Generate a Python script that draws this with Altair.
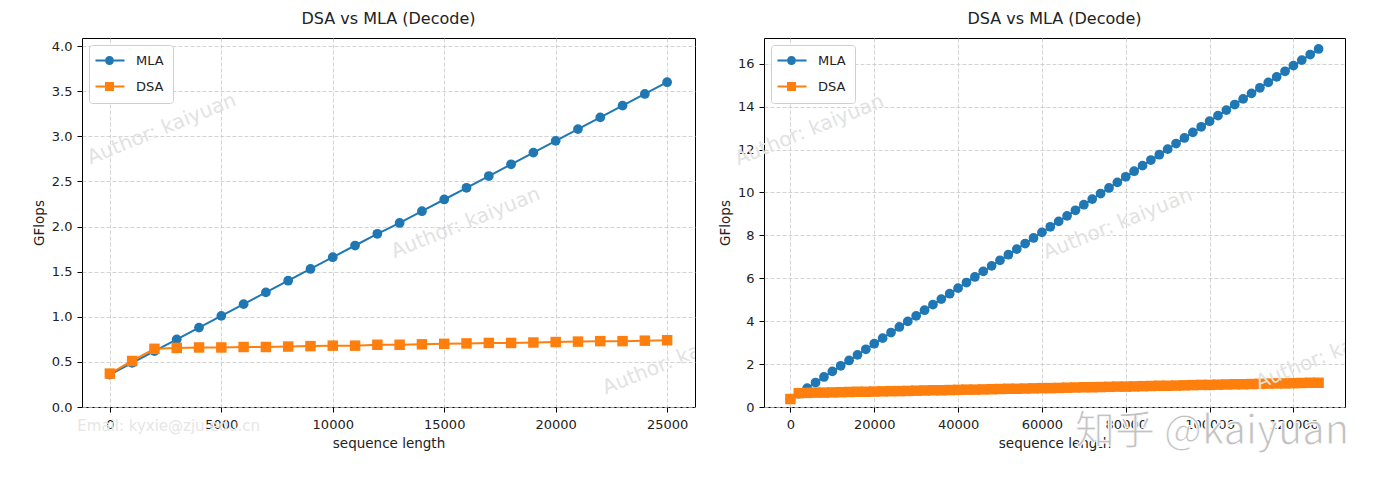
import altair as alt
import pandas as pd

# ---------------- data ----------------
series_names = ["MLA", "DSA"]
series_colors = ["#1f77b4", "#ff7f0e"]

left_seq = [0, 1000, 2000, 3000, 4000, 5000, 6000, 7000, 8000, 9000, 10000, 11000, 12000,
            13000, 14000, 15000, 16000, 17000, 18000, 19000, 20000, 21000, 22000, 23000, 24000, 25000]
left_mla = [0.36, 0.49, 0.62, 0.75, 0.88, 1.01, 1.14, 1.27, 1.40, 1.53, 1.66, 1.79, 1.92,
            2.04, 2.17, 2.30, 2.43, 2.56, 2.69, 2.82, 2.95, 3.08, 3.21, 3.34, 3.47, 3.60]
left_dsa = [0.37, 0.51, 0.645, 0.655, 0.66, 0.66, 0.665, 0.665, 0.67, 0.675, 0.68, 0.68, 0.69,
            0.69, 0.695, 0.70, 0.705, 0.71, 0.71, 0.715, 0.72, 0.725, 0.73, 0.73, 0.735, 0.74]

right_seq = [0, 2000, 4000, 6000, 8000, 10000, 12000, 14000, 16000, 18000, 20000, 22000, 24000,
             26000, 28000, 30000, 32000, 34000, 36000, 38000, 40000, 42000, 44000, 46000, 48000,
             50000, 52000, 54000, 56000, 58000, 60000, 62000, 64000, 66000, 68000, 70000, 72000,
             74000, 76000, 78000, 80000, 82000, 84000, 86000, 88000, 90000, 92000, 94000, 96000,
             98000, 100000, 102000, 104000, 106000, 108000, 110000, 112000, 114000, 116000,
             118000, 120000, 122000, 124000, 126000]
right_mla = [0.36, 0.62, 0.88, 1.14, 1.40, 1.66, 1.92, 2.17, 2.43, 2.69, 2.95, 3.21, 3.47,
             3.73, 3.99, 4.25, 4.51, 4.77, 5.03, 5.28, 5.54, 5.80, 6.06, 6.32, 6.58, 6.84,
             7.10, 7.36, 7.62, 7.88, 8.14, 8.40, 8.65, 8.91, 9.17, 9.43, 9.69, 9.95, 10.21,
             10.47, 10.73, 10.99, 11.25, 11.51, 11.76, 12.02, 12.28, 12.54, 12.80, 13.06,
             13.32, 13.58, 13.84, 14.10, 14.36, 14.62, 14.88, 15.13, 15.39, 15.65, 15.91,
             16.17, 16.43, 16.69]
right_dsa = [0.37, 0.645, 0.66, 0.67, 0.67, 0.68, 0.69, 0.70, 0.71, 0.71, 0.72, 0.73, 0.74,
             0.74, 0.75, 0.76, 0.77, 0.78, 0.78, 0.79, 0.80, 0.81, 0.81, 0.82, 0.83, 0.84,
             0.85, 0.85, 0.86, 0.87, 0.88, 0.88, 0.89, 0.90, 0.91, 0.92, 0.92, 0.93, 0.94,
             0.95, 0.95, 0.96, 0.97, 0.98, 0.99, 0.99, 1.00, 1.01, 1.02, 1.03, 1.03, 1.04,
             1.05, 1.06, 1.06, 1.07, 1.08, 1.09, 1.10, 1.10, 1.11, 1.12, 1.13, 1.13]

left_xticks = [0, 5000, 10000, 15000, 20000, 25000]
left_yticks = [0.0, 0.5, 1.0, 1.5, 2.0, 2.5, 3.0, 3.5, 4.0]
right_xticks = [0, 20000, 40000, 60000, 80000, 100000, 120000]
right_yticks = [0, 2, 4, 6, 8, 10, 12, 14, 16]

title_text = "DSA vs MLA (Decode)"
x_title = "sequence length"
y_title = "GFlops"

# watermark texts (placed in data coordinates of each panel)
wm_text = "Author:  kaiyuan"
left_wm_seq, left_wm_val = [2325, 15966], [3.08, 2.04]
left_wm_clip_seq, left_wm_clip_val = [25447], [0.53]
right_wm_seq, right_wm_val = [4540, 78118], [12.9, 8.53]
right_wm_clip_seq, right_wm_clip_val = [128800], [2.47]
email_text = "Email:  kyxie@zju.edu.cn"
email_seq, email_val = [2640], [-0.21]
zhihu_text = "知乎  @kaiyuan"
zhihu_seq, zhihu_val = [100600], [-1.16]

# legend glyphs: line + marker (custom symbol paths)
mla_glyph = ("M-1.8,-0.2 L0.1,-0.2 L0.1,0.2 L-1.8,0.2 Z "
             "M1.9,-0.2 L4.0,-0.2 L4.0,0.2 L1.9,0.2 Z "
             "M1.9,0 A0.9,0.9 0 1,1 0.1,0 A0.9,0.9 0 1,1 1.9,0 Z")
dsa_glyph = ("M-1.8,-0.2 L0.1,-0.2 L0.1,0.2 L-1.8,0.2 Z "
             "M1.9,-0.2 L4.0,-0.2 L4.0,0.2 L1.9,0.2 Z "
             "M0.1,-0.9 L1.9,-0.9 L1.9,0.9 L0.1,0.9 Z")

FONT = "DejaVu Sans"


def panel(seq, mla, dsa, xdom, ydom, xticks, yticks, yfmt, width, extras):
    n = len(seq)
    df = pd.DataFrame({"seq": seq + seq, "value": mla + dsa,
                       "series": [series_names[0]] * n + [series_names[1]] * n})
    x = alt.X("seq:Q", scale=alt.Scale(domain=xdom, nice=False, zero=False),
              axis=alt.Axis(values=xticks, format="d", title=x_title, labelPadding=6))
    y = alt.Y("value:Q", scale=alt.Scale(domain=ydom, nice=False, zero=False),
              axis=alt.Axis(values=yticks, format=yfmt, title=y_title, labelPadding=5))
    base = alt.Chart(df).encode(x=x, y=y)
    layers = []
    for name, col, shp, size in [(series_names[0], series_colors[0], "circle", 95),
                                 (series_names[1], series_colors[1], "square", 110)]:
        sub = base.transform_filter(alt.datum.series == name)
        layers.append(sub.mark_line(color=col, strokeWidth=2))
        layers.append(sub.mark_point(color=col, filled=True, opacity=1, shape=shp, size=size))
    leg = alt.Legend(title=None, orient="top-left", offset=7, padding=9, symbolSize=100,
                     labelOffset=25, labelFontSize=13, labelFont=FONT, labelColor="#222",
                     strokeColor="#cfcfcf", cornerRadius=3, fillColor="#ffffff",
                     rowPadding=12, symbolStrokeWidth=0, symbolOpacity=1)
    # legend-only layer: no rows drawn, scales have explicit domains
    legend_layer = base.transform_filter("false").mark_point(filled=True, opacity=1, size=100).encode(
        color=alt.Color("series:N", scale=alt.Scale(domain=series_names, range=series_colors), legend=leg),
        shape=alt.Shape("series:N", scale=alt.Scale(domain=series_names, range=[mla_glyph, dsa_glyph]), legend=leg),
    )
    layers.append(legend_layer)
    layers.extend(extras)
    return alt.layer(*layers).properties(
        width=width, height=369,
        title=alt.Title(title_text, fontSize=16, fontWeight="normal", font=FONT, color="#222", offset=11),
    )


def text_layer(seq, val, txt, **kw):
    d = pd.DataFrame({"seq": seq, "value": val, "label": [txt] * len(seq)})
    return alt.Chart(d).mark_text(**kw).encode(x="seq:Q", y="value:Q", text="label:N")


wm_style = dict(angle=338, fontSize=20, color="#e2e2e2", font=FONT)

left_extras = [
    text_layer(left_wm_seq, left_wm_val, wm_text, **wm_style),
    text_layer(left_wm_clip_seq, left_wm_clip_val, wm_text, clip=True, **wm_style),
    text_layer(email_seq, email_val, email_text, fontSize=15, color="#e6e6e6", font=FONT),
]
right_extras = [
    text_layer(right_wm_seq, right_wm_val, wm_text, **wm_style),
    text_layer(right_wm_clip_seq, right_wm_clip_val, wm_text, clip=True, **wm_style),
    text_layer(zhihu_seq, zhihu_val, zhihu_text, fontSize=40, color="#c2c2c2",
               font="Noto Sans CJK SC", stroke="#ffffff", strokeWidth=1),
]

left = panel(left_seq, left_mla, left_dsa, [-1250, 26250], [0, 4.09],
             left_xticks, left_yticks, ".1f", 613, left_extras)
right = panel(right_seq, right_mla, right_dsa, [-6300, 132300], [0, 17.2],
              right_xticks, right_yticks, "d", 581, right_extras)

chart = alt.hconcat(left, right, spacing=21).resolve_scale(
    color="independent", shape="independent"
).properties(
    padding={"left": 31, "top": 10, "right": 5, "bottom": 5},
    background="white",
).configure_view(
    stroke="#000000", strokeWidth=1
).configure_axis(
    grid=True, gridDash=[4, 2], gridColor="#c8c8c8", gridWidth=0.8,
    domain=False, tickColor="#000000", tickSize=5, tickWidth=1,
    labelFont=FONT, labelFontSize=13, labelColor="#222",
    titleFont=FONT, titleFontSize=13.5, titleFontWeight="normal", titleColor="#222",
    titlePadding=5,
)

chart.save("out.html", embed_options={"renderer": "svg", "actions": False})
